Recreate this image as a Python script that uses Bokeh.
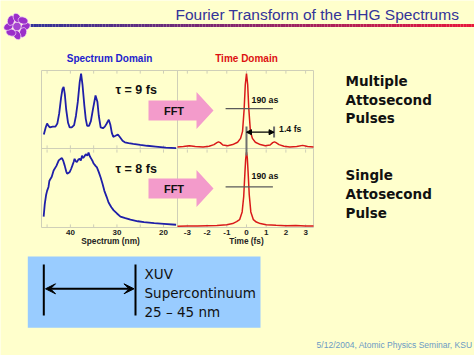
import numpy as np
from bokeh.plotting import figure
from bokeh.models import Range1d, Arrow, VeeHead, NormalHead
from bokeh.core.properties import value
from bokeh.embed import file_html
from bokeh.resources import INLINE

# ---------------- data ----------------
# tau = 9 fs spectrum (wavelength nm, normalised intensity)
nm9 = [45.7, 45.3, 45.0, 44.7, 44.4, 43.8, 43.2, 42.8, 42.4, 42.0, 41.7, 41.45, 41.2, 40.9,
       40.5, 40.15, 39.7, 39.2, 38.8, 38.4, 38.0, 37.7, 37.4, 37.0, 36.7, 36.4, 36.0, 35.6,
       35.1, 34.6, 34.2, 33.9, 33.5, 33.0, 32.6, 32.2, 31.75, 31.4, 31.1, 30.8, 30.4, 29.8,
       29.3, 28.8, 28.3, 27.5, 26.5, 25.0, 23.5, 21.7, 19.5, 17.3]
val9 = [0.18, 0.27, 0.32, 0.29, 0.27, 0.28, 0.28, 0.32, 0.45, 0.65, 0.76, 0.79, 0.70, 0.50,
        0.33, 0.27, 0.27, 0.30, 0.42, 0.60, 0.85, 0.96, 0.82, 0.55, 0.38, 0.29, 0.29, 0.35,
        0.52, 0.68, 0.60, 0.42, 0.27, 0.26, 0.28, 0.32, 0.37, 0.30, 0.20, 0.15, 0.16, 0.18,
        0.14, 0.10, 0.08, 0.07, 0.06, 0.047, 0.035, 0.025, 0.012, 0.006]
# tau = 8 fs spectrum
nm8 = [45.74, 45.5, 45.2, 45.0, 44.7, 44.5, 44.0, 43.6, 43.0, 42.5, 42.1, 41.8, 41.5, 41.2,
       40.9, 40.7, 40.4, 40.15, 39.85, 39.6, 39.3, 39.1, 38.85, 38.6, 38.3, 38.0, 37.75, 37.5,
       37.25, 37.0, 36.8, 36.6, 36.35, 36.1, 35.8, 35.5, 35.3, 35.0, 34.6, 34.3, 33.9, 33.5,
       33.1, 32.7, 32.2, 31.8, 31.2, 30.7, 30.0, 29.25, 28.2, 27.1, 25.5, 24.2, 22.0, 19.9, 17.3]
val8 = [0.14, 0.30, 0.42, 0.47, 0.52, 0.60, 0.65, 0.73, 0.79, 0.86, 0.88, 0.89, 0.85, 0.79,
        0.72, 0.69, 0.70, 0.71, 0.75, 0.79, 0.84, 0.88, 0.85, 0.84, 0.87, 0.88, 0.86, 0.92,
        0.89, 0.91, 0.93, 0.94, 0.92, 0.96, 0.91, 0.88, 0.86, 0.82, 0.79, 0.77, 0.71, 0.64,
        0.56, 0.47, 0.39, 0.32, 0.26, 0.22, 0.18, 0.14, 0.12, 0.10, 0.08, 0.068, 0.055, 0.047, 0.035]
# time domain, multiple pulses (fs, normalised)
t_multi = [-3.5, -3.2, -2.9, -2.6, -2.2, -1.9, -1.65, -1.5, -1.42, -1.33, -1.2, -0.95, -0.7,
           -0.45, -0.3, -0.2, -0.12, -0.06, 0.0, 0.06, 0.12, 0.2, 0.3, 0.45, 0.7, 0.95, 1.2,
           1.33, 1.42, 1.5, 1.65, 1.9, 2.2, 2.55, 2.85, 3.1, 3.4]
v_multi = [0.02, 0.025, 0.035, 0.025, 0.02, 0.03, 0.05, 0.075, 0.085, 0.075, 0.045, 0.035, 0.05,
           0.08, 0.13, 0.22, 0.50, 0.82, 0.96, 0.82, 0.50, 0.22, 0.13, 0.08, 0.05, 0.035, 0.045,
           0.075, 0.085, 0.075, 0.05, 0.03, 0.02, 0.025, 0.04, 0.025, 0.02]
# time domain, single pulse
t_single = [-3.5, -3.0, -2.5, -2.0, -1.5, -1.0, -0.7, -0.5, -0.35, -0.22, -0.14, -0.08, -0.04,
            0.0, 0.04, 0.08, 0.14, 0.22, 0.35, 0.5, 0.7, 1.0, 1.5, 2.0, 2.5, 3.0, 3.4]
v_single = [0.015, 0.02, 0.018, 0.022, 0.025, 0.035, 0.05, 0.075, 0.10, 0.20, 0.40, 0.70, 0.88,
            0.965, 0.90, 0.72, 0.42, 0.20, 0.10, 0.07, 0.05, 0.035, 0.028, 0.022, 0.025, 0.02, 0.018]
fwhm_half = [-1.06, 1.34]          # extent of the "190 as" marker line (fs)
fwhm_level = [0.51, 0.52]          # its level (top, bottom)
pulse_sep = [0.0, 1.4]             # 1.4 fs separation
nm_ticks = [40, 30, 20]
nm_tick_labels = ["40", "30", "20"]
t_ticks = [-3, -2, -1, 0, 1, 2, 3]
t_tick_labels = ["-3", "-2", "-1", "0", "1", "2", "3"]

# ---------------- layout constants ----------------
W, H = 474, 355
BG = "#FFFFCC"
PX_L, PX_M, PX_R = 41, 177, 313
PY_T, PY_M, PY_B = 70, 148, 227
FRAME = "#CFCFB8"
BLUE = "#1F1FA8"
RED = "#D91A1A"
SANS = value("Liberation Sans")
VERD = value("DejaVu Sans")


def lin_range(pa, va, pb, vb, p0, p1):
    s = (vb - va) / (pb - pa)
    return Range1d(start=va + (p0 - pa) * s, end=va + (p1 - pa) * s)


p = figure(width=W, height=H, x_range=Range1d(0, W), y_range=Range1d(H, 0),
           output_backend="svg", toolbar_location=None, min_border=0)
p.axis.visible = False
p.grid.visible = False
p.outline_line_color = None
p.background_fill_color = BG
p.border_fill_color = BG

p.extra_x_ranges = {
    "nm": lin_range(PX_L, 46.2, PX_M, 17.0, 0, W),
    "fs": lin_range(PX_M, -3.5, PX_R, 3.4, 0, W),
}
p.extra_y_ranges = {
    "top": lin_range(PY_M, 0.0, PY_T, 1.0, H, 0),
    "bot": lin_range(PY_B, 0.0, PY_M + 1, 1.0, H, 0),
}

# ---------------- header ----------------
n = 160
gx = np.linspace(30, W, n + 1)
c0 = np.array([0x33, 0x33, 0x99]); c1 = np.array([0xE8, 0x17, 0x3C])
cols = ["#%02x%02x%02x" % tuple((c0 + (c1 - c0) * f).astype(int)) for f in np.linspace(0, 1, n)]
p.segment(x0=gx[:-1], y0=[25] * n, x1=gx[1:], y1=[25] * n, line_color=cols, line_width=3)
p.text(x=[175], y=[13.5], text=["Fourier Transform of the HHG Spectrums"], text_font=SANS,
       text_font_size="15.5px", text_color="#333399", text_baseline="middle")

# logo (pinwheel)
cx, cy = 16.5, 26.0
ang = np.linspace(0, 2 * np.pi, 9)[:-1]
p.ellipse(x=cx + 8.5 * np.cos(ang), y=cy + 8.5 * np.sin(ang), width=10, height=7,
          angle=ang + 0.5, fill_color="#9B2FC9", line_color="#F3D9F7", line_width=0.7)
p.circle(x=[cx], y=[cy], radius=4.2, fill_color="#A646D0", line_color="#F3D9F7", line_width=0.7)

# ---------------- panels ----------------
p.text(x=[109], y=[58], text=["Spectrum Domain"], text_font=SANS, text_font_style="bold",
       text_font_size="10px", text_color="#2222CC", text_align="center", text_baseline="middle")
p.text(x=[246], y=[58], text=["Time Domain"], text_font=SANS, text_font_style="bold",
       text_font_size="10px", text_color="#DD1111", text_align="center", text_baseline="middle")

# frames
p.multi_line(xs=[[PX_L, PX_R, PX_R, PX_L, PX_L], [PX_M, PX_M], [PX_L, PX_R]],
             ys=[[PY_T, PY_T, PY_B, PY_B, PY_T], [PY_T, PY_B], [PY_M, PY_M]],
             line_color=FRAME, line_width=1)
# small inner ticks
for yr in ("top", "bot"):
    for tk in [45, 40, 35, 30, 25, 20]:
        p.segment(x0=[tk, tk], y0=[0, 1], x1=[tk, tk], y1=[0.04, 0.96],
                  x_range_name="nm", y_range_name=yr, line_color=FRAME, line_width=1)
    for tk in t_ticks:
        p.segment(x0=[tk, tk], y0=[0, 1], x1=[tk, tk], y1=[0.04, 0.96],
                  x_range_name="fs", y_range_name=yr, line_color=FRAME, line_width=1)

# curves
p.line(nm9, val9, x_range_name="nm", y_range_name="top", line_color=BLUE, line_width=1.8)
p.line(nm8, val8, x_range_name="nm", y_range_name="bot", line_color=BLUE, line_width=1.8)
p.line(t_multi, v_multi, x_range_name="fs", y_range_name="top", line_color=RED, line_width=1.5)
p.line(t_single, v_single, x_range_name="fs", y_range_name="bot", line_color=RED, line_width=1.5)

# FWHM markers
p.line(fwhm_half, [fwhm_level[0]] * 2, x_range_name="fs", y_range_name="top",
       line_color="#5A5A5A", line_width=1.3)
p.line(fwhm_half, [fwhm_level[1]] * 2, x_range_name="fs", y_range_name="bot",
       line_color="#5A5A5A", line_width=1.3)
p.segment(x0=pulse_sep, y0=[126, 126], x1=pulse_sep, y1=[155, 137], x_range_name="fs",
          line_color="#6E6E6E", line_width=2)
p.add_layout(Arrow(x_start=pulse_sep[0], y_start=131.7, x_end=pulse_sep[1], y_end=131.7,
                   x_range_name="fs", line_color="black", line_width=1.2,
                   start=NormalHead(size=5, fill_color="black", line_color="black"),
                   end=NormalHead(size=5, fill_color="black", line_color="black")))
p.text(x=[251, 251], y=[99, 175.7], text=["190 as", "190 as"], text_font=SANS,
       text_font_style="bold", text_font_size="8.8px", text_color="#111111", text_baseline="middle")
p.text(x=[278.5], y=[128], text=["1.4 fs"], text_font=SANS, text_font_style="bold",
       text_font_size="8.8px", text_color="#111111", text_baseline="middle")

# tau labels
p.text(x=[115, 115], y=[89.3, 168.3], text=["τ = 9 fs", "τ = 8 fs"], text_font=SANS,
       text_font_style="bold", text_font_size="12.5px", text_color="#111111", text_baseline="middle")

# FFT block arrows
for yc in (110.0, 188.0):
    p.patch(x=[148, 196, 196, 213, 196, 196, 148],
            y=[yc - 10, yc - 10, yc - 18.5, yc, yc + 18.5, yc + 10, yc + 10],
            fill_color="#F39BCB", line_color=None)
    p.text(x=[173.5], y=[yc + 0.5], text=["FFT"], text_font=SANS, text_font_style="bold",
           text_font_size="11px", text_color="#111111", text_align="center", text_baseline="middle")

# axis tick labels and titles
p.text(x=nm_ticks, y=[232] * 3, text=nm_tick_labels, x_range_name="nm", text_font=SANS,
       text_font_style="bold", text_font_size="8px", text_color="#222222",
       text_align="center", text_baseline="middle")
p.text(x=t_ticks, y=[232] * 7, text=t_tick_labels, x_range_name="fs", text_font=SANS,
       text_font_style="bold", text_font_size="8px", text_color="#222222",
       text_align="center", text_baseline="middle")
p.text(x=[110], y=[240.5], text=["Spectrum (nm)"], text_font=SANS, text_font_style="bold",
       text_font_size="8.3px", text_color="#222222", text_align="center", text_baseline="middle")
p.text(x=[246], y=[240.5], text=["Time (fs)"], text_font=SANS, text_font_style="bold",
       text_font_size="8.3px", text_color="#222222", text_align="center", text_baseline="middle")

# right side captions
p.text(x=[345] * 6, y=[80, 99.3, 117.7, 174.3, 193.3, 212.7],
       text=["Multiple", "Attosecond", "Pulses", "Single", "Attosecond", "Pulse"],
       text_font=VERD, text_font_style="bold", text_font_size="13.5px", text_color="#111111",
       text_baseline="middle")

# ---------------- XUV box ----------------
p.quad(left=[27.3], right=[260], top=[256], bottom=[327.3], fill_color="#99CCFF", line_color=None)
p.segment(x0=[43.3, 135], y0=[264, 264], x1=[43.3, 135], y1=[315, 315], line_color="black",
          line_width=2)
p.add_layout(Arrow(x_start=45, y_start=288.3, x_end=133.5, y_end=288.3, line_color="black",
                   line_width=2, start=VeeHead(size=10, fill_color="black", line_color="black"),
                   end=VeeHead(size=10, fill_color="black", line_color="black")))
p.text(x=[144] * 3, y=[273.3, 292.7, 311], text=["XUV", "Supercontinuum", "25 – 45 nm"],
       text_font=VERD, text_font_size="13.5px", text_color="#111111", text_baseline="middle")

# footer
p.text(x=[472], y=[344], text=["5/12/2004, Atomic Physics Seminar, KSU"], text_font=SANS,
       text_font_size="8.5px", text_color="#6B9AC4", text_align="right", text_baseline="middle")

open("out.html", "w").write(file_html(p, INLINE))
